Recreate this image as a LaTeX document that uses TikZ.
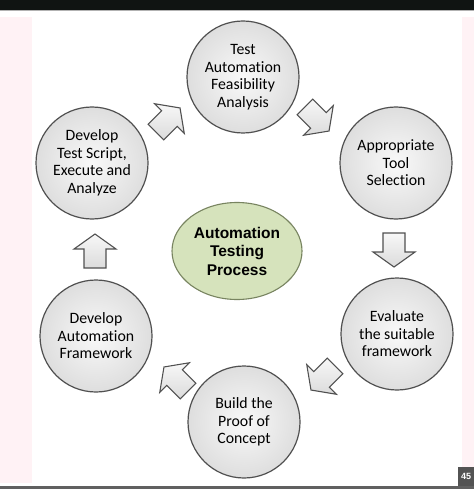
\documentclass[tikz,border=0pt]{standalone}
\usepackage{fontspec}
\setmainfont{Carlito}[Ligatures=NoCommon]
\newfontfamily\arialfont{Liberation Sans}
\usetikzlibrary{shapes.geometric}
\definecolor{pinkbg}{RGB}{255,242,245}
\definecolor{topbar}{RGB}{16,20,18}
\definecolor{edgegray}{RGB}{80,80,80}
\definecolor{centerfill}{RGB}{214,227,188}
\definecolor{centeredge}{RGB}{120,132,96}
\tikzset{
  stage/.style={circle, draw=edgegray, line width=1.2pt, minimum size=112pt, inner sep=0pt,
    shading=radial, inner color=gray!5, outer color=gray!26, align=center,
    font=\fontsize{15.8}{17.5}\selectfont},
  hub/.style={ellipse, draw=centeredge, line width=1.1pt, fill=centerfill, minimum width=130pt,
    minimum height=97pt, inner sep=0pt, align=center,
    font=\arialfont\bfseries\fontsize{15.5}{18.5}\selectfont},
  barrow/.style={draw=edgegray, line width=1.1pt, line join=miter, top color=gray!6, bottom color=gray!28}
}
\newcommand\blockarr[3]{%
  \draw[barrow, shift={(#1,#2)}, rotate=#3] (-17,-11) -- (2,-11) -- (2,-21) -- (17,0) -- (2,21) -- (2,11) -- (-17,11) -- cycle;}
\begin{document}
\begin{tikzpicture}[x=1pt,y=-1pt]
\useasboundingbox (0,0) rectangle (474,489);
\fill[white] (0,0) rectangle (474,489);
\fill[pinkbg] (0,17) rectangle (32,483);
\fill[pinkbg] (462,17) rectangle (474,483);
\fill[topbar] (0,0) rectangle (474,10);
\fill[gray!60] (0,10) rectangle (474,11);
\fill[gray!75!black] (0,485.5) rectangle (474,489);
\node[fill=gray!65!black, text=white, minimum width=16pt, minimum height=19pt, inner sep=0pt,
  font=\arialfont\bfseries\fontsize{9}{10}\selectfont] (pg) at (466,476) {45};

\node[stage] (s1) at (243,77) {Test\\Automation\\Feasibility\\Analysis};
\node[stage] (s2) at (396,163) {Appropriate\\Tool\\Selection};
\node[stage] (s3) at (397,334) {Evaluate\\the suitable\\framework};
\node[stage] (s4) at (244,422) {Build the\\Proof of\\Concept};
\node[stage] (s5) at (96,336) {Develop\\Automation\\Framework};
\node[stage] (s6) at (92,163) {Develop\\Test Script,\\Execute and\\Analyze};
\node[hub] (hub) at (237,251) {Automation\\Testing\\Process};

\blockarr{168}{120}{45}
\blockarr{317}{119}{-45}
\blockarr{394}{250}{-90}
\blockarr{323}{378}{-135}
\blockarr{176}{379}{135}
\blockarr{95}{251}{90}
\end{tikzpicture}
\end{document}
